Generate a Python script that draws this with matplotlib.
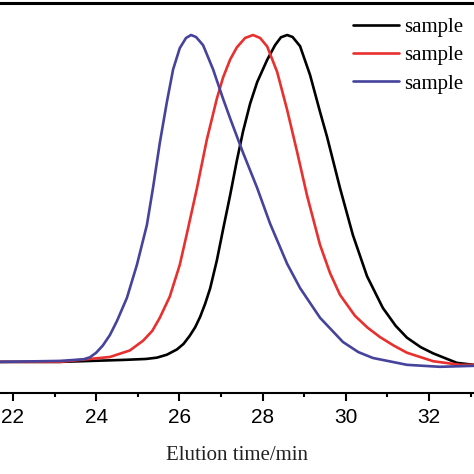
import matplotlib
matplotlib.use("Agg")
import matplotlib.pyplot as plt
from matplotlib.ticker import MultipleLocator

# elution time (min) / normalised detector signal
x_black = [21.69, 23.13, 24.64, 25.20, 25.46, 25.70, 25.94, 26.10, 26.25, 26.38, 26.50, 26.62,
           26.74, 26.90, 27.05, 27.22, 27.38, 27.53, 27.70, 27.87, 28.11, 28.30, 28.44, 28.59,
           28.72, 28.90, 29.14, 29.38, 29.55, 29.86, 30.17, 30.51, 30.89, 31.20, 31.47, 31.80,
           32.10, 32.67, 33.08]
y_black = [0.0, 0.0, 0.006, 0.009, 0.013, 0.022, 0.038, 0.055, 0.080, 0.106, 0.138, 0.178,
           0.225, 0.310, 0.405, 0.510, 0.615, 0.705, 0.790, 0.856, 0.924, 0.969, 0.993, 1.0,
           0.994, 0.966, 0.878, 0.765, 0.688, 0.532, 0.388, 0.262, 0.165, 0.110, 0.074, 0.045,
           0.026, -0.003, -0.009]

x_red = [21.69, 23.13, 24.33, 24.81, 25.13, 25.35, 25.53, 25.77, 26.01, 26.18, 26.42, 26.66,
         26.90, 27.05, 27.22, 27.38, 27.58, 27.77, 27.94, 28.11, 28.35, 28.59, 28.83, 29.07,
         29.38, 29.62, 29.86, 30.22, 30.52, 30.82, 31.15, 31.47, 32.10, 32.75, 33.08]
y_red = [0.0, 0.0, 0.015, 0.035, 0.065, 0.095, 0.135, 0.200, 0.297, 0.392, 0.530, 0.680,
         0.805, 0.870, 0.925, 0.962, 0.991, 1.0, 0.991, 0.965, 0.887, 0.771, 0.642, 0.508,
         0.358, 0.272, 0.205, 0.141, 0.105, 0.076, 0.050, 0.028, 0.002, -0.009, -0.009]

x_blue = [21.69, 23.13, 23.70, 23.85, 24.00, 24.16, 24.33, 24.50, 24.74, 24.98, 25.22, 25.37,
          25.53, 25.70, 25.85, 26.01, 26.16, 26.28, 26.40, 26.57, 26.81, 27.05, 27.22, 27.53,
          27.87, 28.18, 28.59, 28.90, 29.38, 29.93, 30.30, 30.65, 31.47, 32.26, 33.08]
y_blue = [0.0, 0.003, 0.008, 0.014, 0.028, 0.050, 0.082, 0.125, 0.196, 0.297, 0.419, 0.535,
          0.670, 0.795, 0.895, 0.960, 0.991, 1.0, 0.994, 0.969, 0.895, 0.805, 0.745, 0.640,
          0.532, 0.423, 0.300, 0.226, 0.135, 0.061, 0.030, 0.012, -0.009, -0.015, -0.012]

labels = ["sample", "sample", "sample"]
colors = ["black", "#e8302e", "#45439c"]

fig = plt.figure(figsize=(4.74, 4.74), dpi=100)
ax = fig.add_axes([0.0, 0.171, 1.0, 0.8227])

for xs, ys, c, lab in zip([x_black, x_red, x_blue], [y_black, y_red, y_blue], colors, labels):
    ax.plot(xs, ys, color=c, lw=1.9, label=lab, solid_capstyle="round", solid_joinstyle="round")

ax.set_xlim(21.69, 33.08)
ax.set_ylim(-0.095, 1.098)
ax.xaxis.set_major_locator(MultipleLocator(2))
ax.xaxis.set_minor_locator(MultipleLocator(1))
ax.tick_params(axis="x", which="major", direction="out", length=6, width=1.5, pad=5,
               labelsize=15, labelfontfamily="Liberation Sans")
ax.tick_params(axis="x", which="minor", direction="out", length=3, width=1.5)
ax.set_yticks([])
for side in ["left", "right"]:
    ax.spines[side].set_visible(False)
ax.spines["top"].set_linewidth(2.2)
ax.spines["bottom"].set_linewidth(1.5)

fig.text(237 / 474, 1 - 455 / 474, "Elution time/min", ha="center", va="center",
         fontsize=15, family="Liberation Serif", color="#222222")

ax.legend(loc="upper right", bbox_to_anchor=(1.0, 0.99), frameon=False,
          prop={"family": "Liberation Serif", "size": 15},
          handlelength=2.2, handletextpad=0.25, labelspacing=0.42, borderaxespad=0.1)

fig.savefig("out.png", dpi=100)
